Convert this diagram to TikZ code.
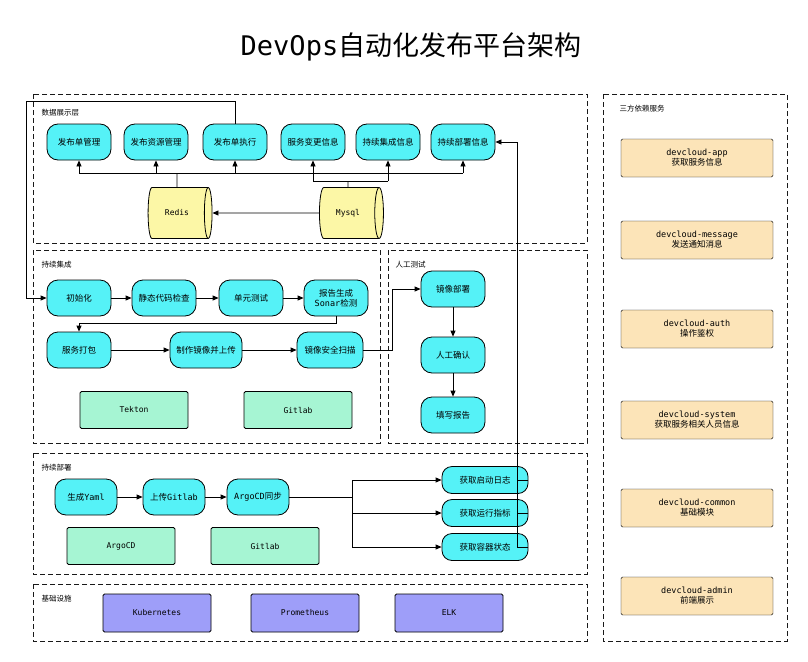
\documentclass[tikz,border=0pt]{standalone}
\usepackage{fontspec}
\setmainfont{Noto Sans CJK SC}
\newfontfamily\monof{DejaVu Sans Mono}
\usetikzlibrary{shapes.geometric,arrows.meta}
\definecolor{cy}{HTML}{55F2F7}
\definecolor{gr}{HTML}{A6F5D3}
\definecolor{pu}{HTML}{9E9EF9}
\definecolor{be}{HTML}{FCE4B8}
\definecolor{ye}{HTML}{FCF7A6}
\begin{document}
\begin{tikzpicture}[x=1pt,y=-1pt,font=\fontsize{8.5}{10}\selectfont,
 rn/.style={draw,thick,fill=cy,rounded corners=11pt,minimum width=64pt,minimum height=36pt,align=center,inner sep=1pt},
 sn/.style={draw,thick,fill=cy,rounded corners=10pt,minimum width=86pt,minimum height=27pt},
 gb/.style={draw,thick,fill=gr,rounded corners=1.5pt,minimum width=108pt,minimum height=37pt,font=\fontsize{8}{9}\monof},
 pb/.style={draw,thick,fill=pu,rounded corners=1.5pt,minimum width=108pt,minimum height=38pt,font=\fontsize{8}{9}\monof},
 bb/.style={draw,thin,fill=be,rounded corners=1.5pt,minimum width=152pt,minimum height=38pt,align=center},
 cyl/.style={cylinder,draw,thick,fill=ye,minimum width=51pt,minimum height=64pt,aspect=0.6,font=\fontsize{8}{9}\monof},
 grp/.style={draw,thick,dash pattern=on 5pt off 3pt,gray!20!black},
 lab/.style={anchor=west,font=\fontsize{7.5}{8}\selectfont},
 ar/.style={thick,-{Triangle[length=6pt,width=5pt]}},
 ln/.style={thick}]
\path[use as bounding box,fill=white] (0,0) rectangle (808,661);
\node (title) at (411,47) {\fontsize{27}{30}\selectfont{\monof DevOps}自动化发布平台架构};
% groups
\draw[grp] (33,94) rectangle (587,243);
\node[lab] (l1) at (38,113) {数据展示层};
\draw[grp] (33,250) rectangle (380,443);
\node[lab] (l2) at (38,265) {持续集成};
\draw[grp] (388,250) rectangle (587,443);
\node[lab] (l3) at (392,265) {人工测试};
\draw[grp] (33,453) rectangle (587,574);
\node[lab] (l4) at (38,468) {持续部署};
\draw[grp] (33,584) rectangle (587,641);
\node[lab] (l5) at (38,599) {基础设施};
\draw[grp] (603,94) rectangle (787,641);
\node[lab] (l6) at (616,109) {三方依赖服务};
% data layer
\node[rn] (a1) at (79,142) {发布单管理};
\node[rn] (a2) at (156,142) {发布资源管理};
\node[rn] (a3) at (235,142) {发布单执行};
\node[rn] (a4) at (313,142) {服务变更信息};
\node[rn] (a5) at (388,142) {持续集成信息};
\node[rn] (a6) at (463,142) {持续部署信息};
\node[cyl] (redis) at (177,213) {Redis};
\node[cyl] (mysql) at (348,213) {Mysql};
\draw[ar] (mysql.west) -- (redis.east);
\coordinate (rb) at (177,173);
\draw[ln] (redis.north) -- (rb);
\draw[ln] (a1.south |- rb) -- (a6.south |- rb);
\foreach \n in {a1,a2,a3,a6} \draw[ar] (\n.south |- rb) -- (\n.south);
\coordinate (mb) at (348,181);
\draw[ln] (mysql.north) -- (mb);
\draw[ln] (a4.south |- mb) -- (a5.south |- mb);
\draw[ar] (a4.south |- mb) -- (a4.south);
\draw[ar] (a5.south |- mb) -- (a5.south);
% CI
\node[rn] (c1) at (79,298) {初始化};
\node[rn] (c2) at (164,298) {静态代码检查};
\node[rn] (c3) at (251,298) {单元测试};
\node[rn] (c4) at (336,298) {报告生成\\{\monof Sonar}检测};
\node[rn] (c5) at (79,350) {服务打包};
\node[rn,minimum width=72pt] (c6) at (206,350) {制作镜像并上传};
\node[rn,minimum width=66pt] (c7) at (330,350) {镜像安全扫描};
\node[gb] (tek) at (134,410) {Tekton};
\node[gb] (git1) at (298,410) {Gitlab};
\draw[ar] (c1) -- (c2);
\draw[ar] (c2) -- (c3);
\draw[ar] (c3) -- (c4);
\draw[ar] (c4.south) -- ++(0,7) -| (c5.north);
\draw[ar] (c5) -- (c6);
\draw[ar] (c6) -- (c7);
\draw[ar] (a3.north) -- (235,101) -- (26,101) |- (c1.west);
% manual test
\node[rn] (m1) at (453,289) {镜像部署};
\node[rn] (m2) at (453,355) {人工确认};
\node[rn] (m3) at (453,415) {填写报告};
\draw[ar] (c7.east) -- (392,350) |- (m1.west);
\draw[ar] (m1) -- (m2);
\draw[ar] (m2) -- (m3);
% CD
\node[rn,minimum width=62pt] (d1) at (86,497) {生成{\monof Yaml}};
\node[rn,minimum width=62pt] (d2) at (174,497) {上传{\monof Gitlab}};
\node[rn,minimum width=62pt] (d3) at (258,497) {{\monof ArgoCD}同步};
\node[gb] (argo) at (121,546) {ArgoCD};
\node[gb] (git2) at (265,546) {Gitlab};
\node[sn] (e1) at (485,480) {获取启动日志};
\node[sn] (e2) at (485,513) {获取运行指标};
\node[sn] (e3) at (485,547) {获取容器状态};
\draw[ar] (d1) -- (d2);
\draw[ar] (d2) -- (d3);
\draw[ln] (d3.east) -- (352,497);
\draw[ar] (352,497) |- (e1.west);
\draw[ar] (352,497) |- (e2.west);
\draw[ar] (352,497) |- (e3.west);
\draw[ln] (e1.east) -- (517,480);
\draw[ln] (e2.east) -- (517,513);
\draw[ar] (e3.east) -- (517,547) |- (a6.east);
% infra
\node[pb] (k8s) at (157,613) {Kubernetes};
\node[pb] (prom) at (305,613) {Prometheus};
\node[pb] (elk) at (449,613) {ELK};
% third party
\foreach \n/\y in {b1/158,b2/240,b3/329,b4/420,b5/508,b6/596}
  \node[bb] (\n) at (697,\y) {};
\node[align=center] (t1) at (b1) {{\monof devcloud-app}\\获取服务信息};
\node[align=center] (t2) at (b2) {{\monof devcloud-message}\\发送通知消息};
\node[align=center] (t3) at (b3) {{\monof devcloud-auth}\\操作鉴权};
\node[align=center] (t4) at (b4) {{\monof devcloud-system}\\获取服务相关人员信息};
\node[align=center] (t5) at (b5) {{\monof devcloud-common}\\基础模块};
\node[align=center] (t6) at (b6) {{\monof devcloud-admin}\\前端展示};
\end{tikzpicture}
\end{document}
